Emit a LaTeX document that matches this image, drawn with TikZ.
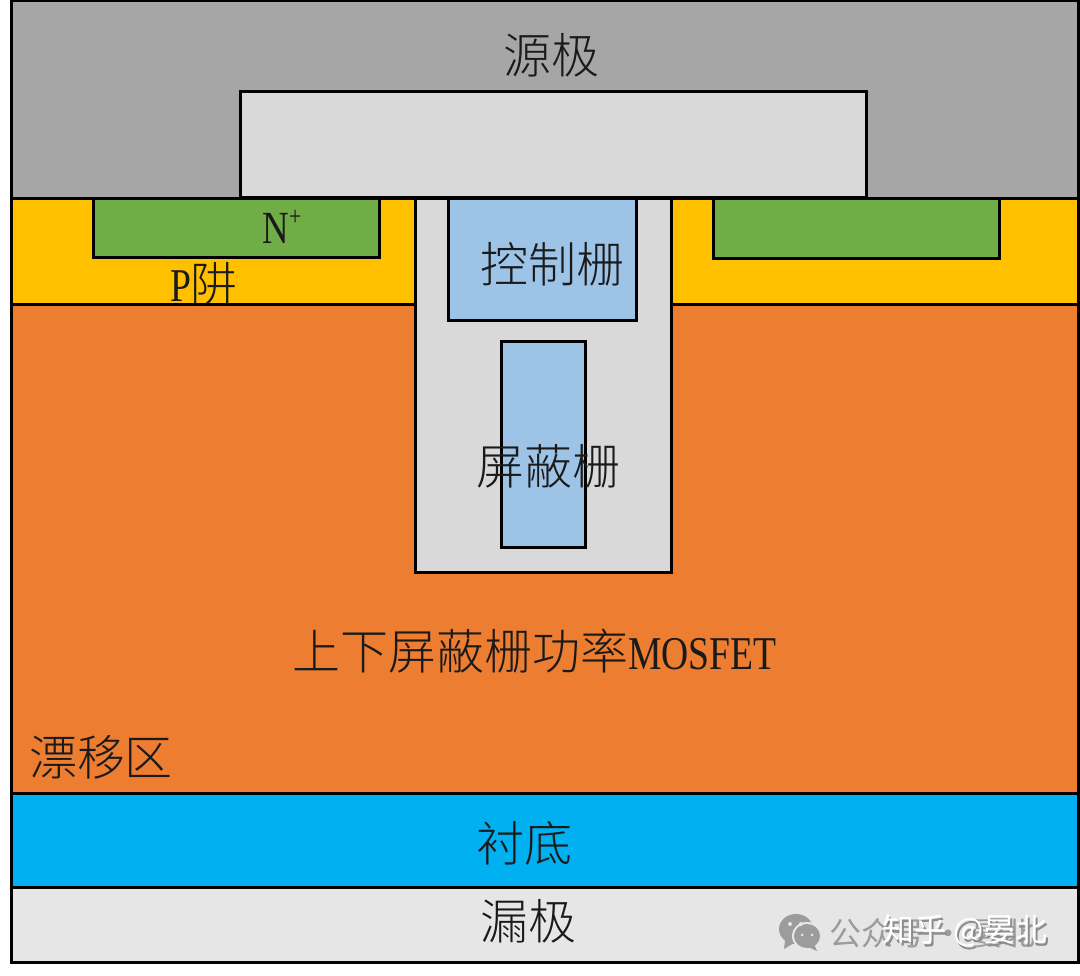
\documentclass[tikz,border=0pt]{standalone}
\usepackage{fontspec}
\setmainfont{Liberation Serif}
\newfontfamily\cjk{Noto Sans CJK SC}
\newfontfamily\cjklight{Noto Sans CJK SC Light}
\newfontfamily\latn[FakeStretch=0.8]{Liberation Serif}
\definecolor{srcgray}{HTML}{A6A6A6}
\definecolor{oxgray}{HTML}{D9D9D9}
\definecolor{wellyel}{HTML}{FFC000}
\definecolor{driftor}{HTML}{ED7D31}
\definecolor{subblue}{HTML}{00B0F0}
\definecolor{drainlt}{HTML}{E7E6E6}
\definecolor{nplus}{HTML}{70AD47}
\definecolor{gateblue}{HTML}{9DC3E6}
\definecolor{txtdark}{HTML}{1A1A1A}
\definecolor{wmgray}{HTML}{9C9C9C}
\tikzset{
  region/.style={draw=black,line width=3pt},
  lab/.style={inner sep=0pt,text=txtdark,font=\fontsize{48}{52}\selectfont\cjklight},
  wmicon/.style={fill=wmgray,draw=none},
  wmtext/.style={inner sep=0pt,font=\fontsize{32}{35}\selectfont\cjk},
}
\begin{document}
\begin{tikzpicture}[x=1pt,y=-1pt]
\useasboundingbox (0,0) rectangle (1080,976);
\fill[white] (0,0) rectangle (1080,976);
% layers
\draw[region,fill=srcgray] (11,1) rectangle (1078,199);
\draw[region,fill=wellyel] (11,199) rectangle (1078,305);
\draw[region,fill=driftor] (11,305) rectangle (1078,793);
\draw[region,fill=subblue] (11,793) rectangle (1078,887);
\draw[region,fill=drainlt] (11,887) rectangle (1078,962);
% trench and inner parts
\draw[region,fill=oxgray] (415,199) rectangle (671,572);
\draw[region,fill=oxgray] (240,92) rectangle (866,198);
\draw[region,fill=nplus] (93,199) rectangle (379,258);
\draw[region,fill=nplus] (713,199) rectangle (999,259);
\draw[region,fill=gateblue] (448,199) rectangle (636,321);
\draw[region,fill=gateblue] (501,342) rectangle (585,547);
% labels
\node[lab] (source) at (551,55) {源极};
\node[lab] (np) at (282,227) {\fontsize{46}{50}\selectfont\latn N\raisebox{0.38em}{\fontsize{27}{30}\selectfont +}};
\node[lab] (pwell) at (204,284) {\fontsize{47}{50}\selectfont\latn P\cjklight 阱};
\node[lab] (cg) at (552,264) {控制栅};
\node[lab] (sg) at (548,466) {屏蔽栅};
\node[lab,anchor=west] (title) at (292,651) {上下屏蔽栅功率{\fontsize{47}{50}\selectfont\latn MOSFET}};
\node[lab] (drift) at (101,757) {漂移区};
\node[lab] (sub) at (524,843) {衬底};
\node[lab] (drain) at (528,921) {漏极};
% watermark
\fill[wmicon] (796,929) ellipse (17 and 15);
\fill[wmicon] (785,940) -- (784,949) -- (794,943) -- cycle;
\fill[drainlt] (807,936) ellipse (15 and 14);
\fill[wmicon] (807,936) ellipse (13 and 12);
\fill[wmicon] (814,944) -- (817,951) -- (808,947) -- cycle;
\fill[drainlt] (790,924) circle (2) (801,924) circle (2) (802,935) circle (1.5) (812,935) circle (1.5);
\node[wmtext,text=wmgray,anchor=west] (wm1) at (829,933) {公众号 · 晏北};
\node[wmtext,text=black!45,anchor=west] (wm2s) at (884,934) {知乎 @晏北};
\node[wmtext,text=white,anchor=west] (wm2) at (882,931) {知乎 @晏北};
\end{tikzpicture}
\end{document}
